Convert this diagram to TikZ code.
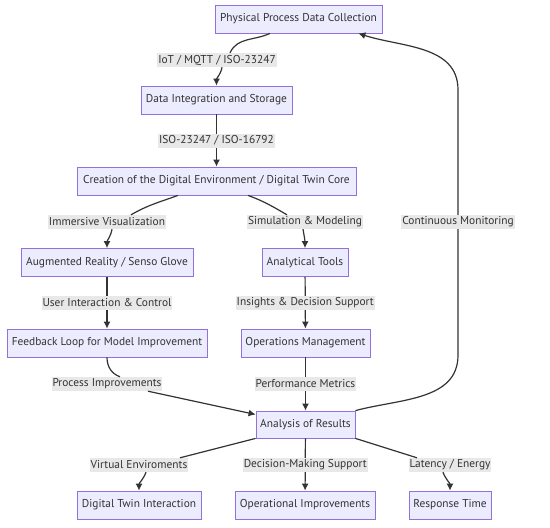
\documentclass[tikz,border=0pt]{standalone}
\usepackage{fontspec}
\setmainfont{PT Sans}
\usepackage{xcolor}
\usetikzlibrary{arrows.meta}

\definecolor{boxfill}{HTML}{ECECFF}
\definecolor{boxline}{HTML}{9370DB}
\definecolor{ink}{HTML}{333333}
\definecolor{lblfill}{HTML}{E8E8E8}

\begin{document}
\begin{tikzpicture}[x=1pt, y=-1pt,
        box/.style={rectangle, draw=boxline, fill=boxfill, line width=0.8pt, minimum height=28, inner xsep=2pt, text=ink, font=\fontsize{11.4}{13}\selectfont},
        lbl/.style={rectangle, fill=lblfill, inner xsep=1pt, inner ysep=1.5pt, minimum height=14, text=ink, font=\fontsize{11.4}{13}\selectfont},
        line/.style={draw=ink, line width=1.2pt},
        arr/.style={line, -{Latex[length=7pt, width=7pt]}}]
            \useasboundingbox[fill=white] (0, 0) rectangle (550, 528);

            \node[box, minimum width=167] (pdc) at (298.5, 19) {Physical Process Data Collection};
            \node[box, minimum width=151] (dis) at (216.5, 100) {Data Integration and Storage};
            \node[box, minimum width=279] (dtc) at (216.5, 181) {Creation of the Digital Environment / Digital Twin Core};
            \node[box, minimum width=172] (aug) at (107, 262.5) {Augmented Reality / Senso Glove};
            \node[box, minimum width=86] (tools) at (305, 262.5) {Analytical Tools};
            \node[box, minimum width=200] (fbl) at (107, 343) {Feedback Loop for Model Improvement};
            \node[box, minimum width=129] (opm) at (305.5, 343) {Operations Management};
            \node[box, minimum width=99, minimum height=27] (res) at (305.5, 424.5) {Analysis of Results};
            \node[box, minimum width=124] (dti) at (139, 505) {Digital Twin Interaction};
            \node[box, minimum width=140] (opi) at (305, 505) {Operational Improvements};
            \node[box, minimum width=82] (rt) at (450, 505) {Response Time};

            \node[lbl] (l_iot) at (217, 60) {IoT / MQTT / ISO-23247};
            \node[lbl] (l_imm) at (107, 222) {Immersive Visualization};
            \node[lbl] (l_sim) at (305, 222) {Simulation \& Modeling};
            \node[lbl] (l_cm) at (458, 222) {Continuous Monitoring};
            \node[lbl] (l_pi) at (107, 384) {Process Improvements};
            \node[lbl] (l_ve) at (139, 465) {Virtual Enviroments};
            \node[lbl] (l_le) at (450, 465) {Latency / Energy};

            \draw[line] ([xshift=-28.5]pdc.south) to[out=-155, in=65] ([xshift=13]l_iot.north);
            \draw[arr] ([xshift=5]l_iot.south) to[out=-100, in=90] (dis.north);
            \draw[arr] (dis) -- node[lbl] (l_iso) {ISO-23247 / ISO-16792} (dtc);

            \draw[line] ([xshift=-38.5]dtc.south) to[out=-160, in=30] ([xshift=24]l_imm.north);
            \draw[arr] ([xshift=5]l_imm.south) to[out=-100, in=90] (aug.north);
            \draw[line] ([xshift=31.5]dtc.south) to[out=-20, in=150] ([xshift=-18]l_sim.north);
            \draw[arr] ([xshift=-2]l_sim.south) to[out=-80, in=90] (tools.north);

            \draw[arr] (aug) -- node[lbl] (l_uic) {User Interaction \& Control} (fbl);
            \draw[arr] (tools) -- node[lbl] (l_ids) {Insights \& Decision Support} (opm);

            \draw[line] (fbl.south) to[out=-90, in=160] ([xshift=13]l_pi.north);
            \draw[arr] ([xshift=41]l_pi.south) -- ([yshift=10]res.west);
            \draw[arr] (opm) -- node[lbl] (l_pm) {Performance Metrics} (res);

            \draw[line] (res.north east) to[out=15, in=-90] ([yshift=-126]l_cm.south) -- (l_cm.south);
            \draw[arr] (l_cm.north) -- ([yshift=125]l_cm.north) to[out=90, in=-18] ([xshift=-24]pdc.south east);

            \draw[line] (res.south west) -- ([xshift=41]l_ve.north);
            \draw[arr] ([xshift=7]l_ve.south) to[out=-110, in=90] (dti.north);
            \draw[arr] (res) -- node[lbl] (l_dms) {Decision-Making Support} (opi);
            \draw[line] (res.south east) -- ([xshift=-33]l_le.north);
            \draw[arr] ([xshift=-7]l_le.south) to[out=-70, in=90] (rt.north);
        \end{tikzpicture}
\end{document}
